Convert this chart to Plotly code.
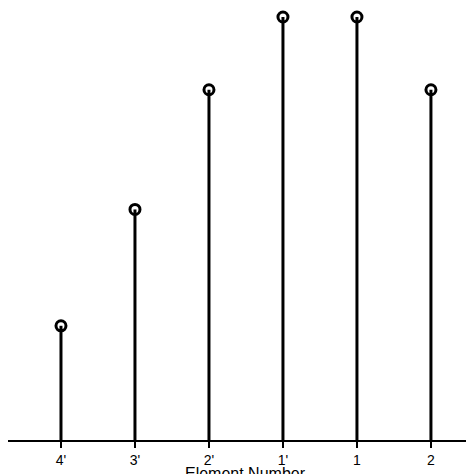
import plotly.graph_objects as go

categories = ["4'", "3'", "2'", "1'", "1", "2"]
values = [0.27, 0.545, 0.828, 1.0, 1.0, 0.828]

xs = list(range(len(categories)))
fig = go.Figure()
for x, v in zip(xs, values):
    fig.add_trace(go.Scatter(x=[x, x], y=[0, v], mode="lines",
                             line=dict(color="black", width=3), showlegend=False))
fig.add_trace(go.Scatter(x=xs, y=values, mode="markers",
                         marker=dict(symbol="circle-open", size=10, color="black",
                                     line=dict(width=3, color="black")),
                         showlegend=False, cliponaxis=False))
fig.update_layout(
    width=474, height=474, margin=dict(l=0, r=0, t=0, b=42, autoexpand=False),
    plot_bgcolor="white", paper_bgcolor="white",
    font=dict(family="Liberation Sans, Arial", color="black"),
    xaxis=dict(range=[-0.716, 5.69], tickvals=xs, ticktext=categories,
               ticks="outside", ticklen=6, tickwidth=1.5, tickcolor="black",
               showline=True, linecolor="black", linewidth=1.5, showgrid=False,
               zeroline=False, tickfont=dict(size=14), automargin=False,
               title=dict(text="Element Number", font=dict(size=16), standoff=2)),
    yaxis=dict(range=[0, 1.0213], visible=False, showgrid=False, zeroline=False,
               automargin=False),
)
fig.write_html("out.html")
